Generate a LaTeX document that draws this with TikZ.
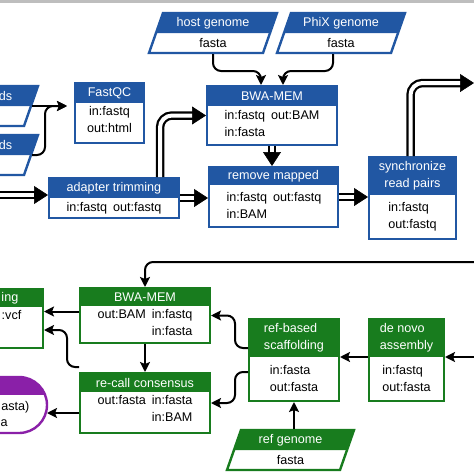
\documentclass[tikz,border=0pt]{standalone}
\usepackage{fontspec}
\setmainfont{Liberation Sans}
\usetikzlibrary{arrows.meta}
\definecolor{cbl}{RGB}{33,87,163}
\definecolor{cgr}{RGB}{24,124,30}
\definecolor{cpu}{RGB}{138,32,168}
\definecolor{cgy}{RGB}{190,190,190}
\newcommand\txtfont{\fontsize{12.6}{17}\selectfont}
\tikzset{
 boxbase/.style={inner sep=0pt, outer sep=1pt},
 hdr/.style={text=white, font=\txtfont, align=center, inner sep=0pt},
 body/.style={text=black, font=\txtfont, align=left, inner sep=0pt},
 arr/.style={draw=black, line width=2pt, -{Stealth[length=10pt,width=10pt,inset=2pt]}, rounded corners=8pt},
 dbltip/.style={draw=black, line width=0.6pt, -{Triangle[length=14pt,width=18pt]}, rounded corners=12pt},
 dblout/.style={draw=black, line width=8.5pt, shorten >=13pt, rounded corners=12pt},
 dblin/.style={draw=white, line width=4pt, shorten >=14pt, rounded corners=12pt},
}
% name, color, x1, y1, x2, y2, header bottom, header text
\newcommand\mybox[8]{%
 \node[boxbase, fill=white, minimum width={(#5-#3)*1pt}, minimum height={(#6-#4)*1pt}] (#1) at ({(#3+#5)/2},{(#4+#6)/2}) {};
 \fill[#2] (#3,#4) rectangle (#5,#7);
 \draw[#2, line width=2.4pt] (#3,#4) rectangle (#5,#6);
 \node[hdr] at ({(#3+#5)/2},{(#4+#7)/2}) {#8};
}
% name, color, x top-left, y top, width, header, body
\newcommand\mypara[7]{%
 \fill[white] (#3,#4) -- ({#3+#5},#4) -- ({#3+#5-14},{#4+40}) -- ({#3-14},{#4+40}) -- cycle;
 \fill[#2] (#3,#4) -- ({#3+#5},#4) -- ({#3+#5-7},{#4+20}) -- ({#3-7},{#4+20}) -- cycle;
 \draw[#2, line width=2.4pt] (#3,#4) -- ({#3+#5},#4) -- ({#3+#5-14},{#4+40}) -- ({#3-14},{#4+40}) -- cycle;
 \node[boxbase, minimum width={(#5+14)*1pt}, minimum height=40pt] (#1) at ({#3+#5/2-7},{#4+20}) {};
 \node[hdr] at ({#3+#5/2-7},{#4+10.5}) {#6};
 \node[body] at ({#3+#5/2-7},{#4+30}) {#7};
}
\newcommand\dblarrow[1]{\draw[dbltip] #1; \draw[dblout] #1; \draw[dblin] #1;}
\begin{document}
\begin{tikzpicture}[x=1pt, y=-1pt]
\useasboundingbox (0,0) rectangle (474,474);
\fill[white] (0,0) rectangle (474,474);
\clip (0,0) rectangle (474,474);
\fill[cgy] (0,0) rectangle (474,2.5);

% inputs (top)
\mypara{host}{cbl}{163}{13}{114}{host genome}{fasta}
\mypara{phix}{cbl}{291}{13}{114}{PhiX genome}{fasta}
\mypara{rdA}{cbl}{-76}{86}{114}{}{}
\mypara{rdB}{cbl}{-76}{135}{114}{}{}
\node[hdr, anchor=east] at (12.5,96) {ds};
\node[hdr, anchor=east] at (12.5,145) {ds};

% blue process boxes
\mybox{fqc}{cbl}{75}{83}{144}{143}{103}{FastQC}
\node[body, align=center] at (109.5,119.5) {in:fastq\\out:html};
\mybox{adapt}{cbl}{49}{178}{179}{218}{198}{adapter trimming}
\node[body] at (114,208) {in:fastq\hspace{6pt}out:fastq};
\mybox{bwaA}{cbl}{207}{86}{337}{145}{106}{BWA-MEM}
\node[body] at (272,123.5) {in:fastq\hspace{6pt}out:BAM\\in:fasta};
\mybox{rm}{cbl}{209}{167}{338}{227}{185}{remove mapped}
\node[body] at (274,205) {in:fastq\hspace{6pt}out:fastq\\in:BAM};
\mybox{sync}{cbl}{369}{157}{456}{239}{195}{synchronize\\read pairs}
\node[body] at (412.5,217) {in:fastq\\out:fastq};

% green process boxes
\mybox{bwaB}{cgr}{80}{288}{210}{343}{306}{BWA-MEM}
\node[body] at (145,324) {\begin{tabular}{@{}l@{\hspace{6pt}}l@{}}out:BAM & in:fastq\\ & in:fasta\end{tabular}};
\mybox{recall}{cgr}{80}{373}{210}{433}{392}{re-call consensus}
\node[body] at (145,409.5) {\begin{tabular}{@{}l@{\hspace{6pt}}l@{}}out:fasta & in:fasta\\ & in:BAM\end{tabular}};
\mybox{refb}{cgr}{249}{319}{339}{401}{357}{\begin{tabular}{@{}l@{}}ref-based\\scaffolding\end{tabular}}
\node[body] at (294,378) {in:fasta\\out:fasta};
\mybox{denovo}{cgr}{369}{319}{444}{401}{357}{\begin{tabular}{@{}l@{}}de novo\\assembly\end{tabular}}
\node[body] at (406.5,378) {in:fastq\\out:fasta};
\mybox{vcall}{cgr}{-60}{289}{43}{348}{307}{}
\node[hdr, anchor=east] at (18.5,298) {ing};
\node[body, anchor=east] at (21.5,315) {:vcf};
\mypara{refg}{cgr}{241}{430}{113}{ref genome}{fasta}

% purple terminal
\begin{scope}
\clip (-60,377) -- (19,377) arc(-90:90:28) -- (-60,433) -- cycle;
\fill[white] (-60,377) rectangle (60,433);
\fill[cpu] (-60,377) rectangle (60,395);
\end{scope}
\draw[cpu, line width=2.4pt] (-60,377) -- (19,377) arc(-90:90:28) -- (-60,433) -- cycle;
\node[boxbase, minimum width=107pt, minimum height=56pt] (cons) at (-6.5,405) {};
\node[body, anchor=east] at (29.5,407) {asta)};
\node[body, anchor=west] at (0.5,423) {a};

% free ends
\coordinate (inL) at (-2,195);
\coordinate (outR) at (474,83);
\coordinate (inR1) at (476,262);
\coordinate (inR2) at (476,357);

% single connectors (top)
\draw[arr] (host.south) -- ++(0,17) -| ([xshift=-11pt]bwaA.north);
\draw[arr] ([xshift=-8pt]phix.south) -- ++(0,17) -| ([xshift=11pt]bwaA.north);
\draw[arr] ([xshift=-7pt]rdA.east) -- ([xshift=-7pt]rdA.east -| fqc.west);
\draw[arr] ([xshift=-7pt]rdB.east) -- ++(13,0) |- ([xshift=-7pt]rdA.east -| fqc.west);

% double connectors
\dblarrow{(inL) -- (inL -| adapt.west)}
\dblarrow{([xshift=46pt]adapt.north) |- (bwaA.west)}
\dblarrow{(adapt.east) -- (adapt.east -| rm.west)}
\dblarrow{(bwaA.south) -- (bwaA.south |- rm.north)}
\dblarrow{(rm.east) -- (rm.east -| sync.west)}
\dblarrow{([xshift=-2pt]sync.north) |- (outR)}

% green connectors
\draw[arr] (inR1) -| (bwaB.north);
\draw[arr] (inR2) -- (inR2 -| denovo.east);
\draw[arr] ([yshift=3pt]denovo.west) -- ([yshift=3pt]refb.east);
\draw[arr] (refg.north -| refb.south) -- (refb.south);
\draw[arr] ([yshift=12pt]refb.west) -- ++(-13,0) |- (bwaB.east);
\draw[arr] ([yshift=-12pt]refb.west) -- ++(-13,0) |- (recall.east);
\draw[arr] (bwaB.south) -- (recall.north);
\draw[arr] ([yshift=4pt]bwaB.west) -- ([yshift=4pt]bwaB.west -| vcall.east);
\draw[arr] ([yshift=36pt]recall.west) -- ++(-12,0) |- ([yshift=-11.5pt]vcall.east);
\draw[arr] ([yshift=-10pt]recall.west) -- ++(-32,0);
\end{tikzpicture}
\end{document}
